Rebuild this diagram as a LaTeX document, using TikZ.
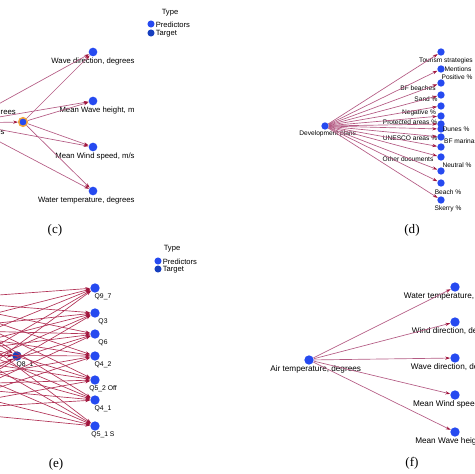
\documentclass[tikz,border=0pt]{standalone}
\usepackage{fontspec}
\setmainfont{Liberation Serif}
\newfontfamily\netfont{Liberation Sans}
\usetikzlibrary{positioning,arrows.meta}

\definecolor{predblue}{RGB}{38,74,240}
\definecolor{targblue}{RGB}{22,62,190}
\definecolor{edgecol}{RGB}{180,92,132}
\definecolor{edgered}{RGB}{178,52,88}
\definecolor{tipcol}{RGB}{160,20,60}
\definecolor{selring}{RGB}{245,165,60}

\begin{document}
\begin{tikzpicture}[x=0.75pt,y=-0.75pt]
	% Define styles
	\tikzstyle{dot} = [circle, fill=predblue, inner sep=0pt]
	\tikzstyle{cnode} = [dot, minimum size=6.5pt]
	\tikzstyle{dnode} = [dot, minimum size=5.5pt]
	\tikzstyle{enode} = [dot, minimum size=7pt]
	\tikzstyle{fnode} = [dot, minimum size=7pt]
	\tikzstyle{selnode} = [cnode, draw=selring, line width=1.1pt]
	\tikzstyle{legdot} = [dot, minimum size=5.3pt]
	\tikzstyle{clbl} = [font=\netfont\fontsize{5.8}{6}\selectfont, inner sep=0.6pt]
	\tikzstyle{dlbl} = [font=\netfont\fontsize{4.95}{5}\selectfont, inner sep=0.5pt]
	\tikzstyle{elbl} = [font=\netfont\fontsize{5.1}{5.5}\selectfont, inner sep=0.6pt, xshift=6pt]
	\tikzstyle{flbl} = [font=\netfont\fontsize{6.15}{6.5}\selectfont, inner sep=0.6pt]
	\tikzstyle{legtxt} = [font=\netfont\fontsize{5.7}{6}\selectfont, inner sep=0.4pt]
	\tikzstyle{tag} = [font=\fontsize{9.8}{11}\selectfont]
	\tikzstyle{link} = [draw=edgecol, line width=0.5pt, -{Stealth[length=3.6pt, width=2.4pt, color=tipcol]}]
	\tikzstyle{redlink} = [link, draw=edgered]
	
	% Canvas
	\useasboundingbox (0,0) rectangle (474,474);
	\clip (0,0) rectangle (474,474);
	
	% ---- (c) ----
	\node [legtxt] (ctype) at (170,13) {Type};
	\node [legdot] (cpdot) at (151,24) {};
	\node [legtxt, anchor=west] (cptxt) at (155,24.5) {Predictors};
	\node [legdot, fill=targblue] (ctdot) at (151,33) {};
	\node [legtxt, anchor=west] (cttxt) at (155,33.5) {Target};
	
	\node [cnode, label={[clbl]below:Air temperature, degrees}] (cair) at (-27,103) {};
	\node [cnode, label={[clbl]below:Wind direction, degrees}] (cwind) at (-36,123) {};
	\node [selnode] (csel) at (23,122) {};
	\node [cnode, label={[clbl]below:Wave direction, degrees}] (c1) at (93,52) {};
	\node [cnode, label={[clbl, xshift=3pt]below:Mean Wave height, m}] (c2) at (93,101) {};
	\node [cnode, label={[clbl, xshift=1.5pt]below:Mean Wind speed, m/s}] (c3) at (93,147) {};
	\node [cnode, label={[clbl, xshift=-5pt]below:Water temperature, degrees}] (c4) at (93,191) {};
	\node [tag] (ctag) at (55,230) {(c)};
	
	\draw [link] (cwind) -- (csel);
	\foreach \t in {1,...,4} {
		\draw [link] (cwind) -- (c\t);
		\draw [link] (csel) -- (c\t);
	}
	
	% ---- (d) ----
	\node [dnode, label={[dlbl, xshift=2pt]below:Development plans}] (dev) at (325,126) {};
	\foreach \n/\y in {1/52,2/69,3/83,4/95,5/106,6/116,7/124,8/129,9/137,10/147,11/157,12/171,13/183,14/200}
		\node [dnode] (t\n) at (441,\y) {};
	\foreach \n/\x/\y/\txt in {1/446/61/Tourism strategies, 2/458/69/Mentions, 3/457/77/Positive \%,
		4/418/88/BF beaches, 5/426/99/Sand \%, 6/419/113/Negative \%, 7/410/122/Protected areas \%,
		8/456/129/Dunes \%, 9/410/138/UNESCO areas \%, 10/461/141/BF marinas, 11/408/159/Other documents,
		12/457/165/Neutral \%, 13/448/192/Beach \%, 14/448/209/Skerry \%}
		\node [dlbl] (lt\n) at (\x,\y) {\txt};
	\node [tag] (dtag) at (412,230) {(d)};
	
	\foreach \n in {1,...,14}
		\draw [link] (dev) -- (t\n);
	
	% ---- (e) ----
	\node [legtxt] (etype) at (172,249) {Type};
	\node [legdot] (epdot) at (158,261) {};
	\node [legtxt, anchor=west] (eptxt) at (162,261.5) {Predictors};
	\node [legdot, fill=targblue] (etdot) at (158,269) {};
	\node [legtxt, anchor=west] (ettxt) at (162,269.5) {Target};
	
	\foreach \s/\y in {1/300,2/330,3/355,4/385,5/410}
		\node [enode] (es\s) at (-70,\y) {};
	\node [enode, fill=targblue, label={[elbl]below:Q8\_1}] (q8) at (17,356) {};
	\foreach \n/\y/\txt in {1/288/Q9\_7, 2/313/Q3, 3/334/Q6, 4/356/Q4\_2, 5/380/Q5\_2 Off, 6/400/Q4\_1, 7/426/Q5\_1 S}
		\node [enode, label={[elbl]below:\txt}] (q\n) at (95,\y) {};
	\node [tag] (etag) at (56,464) {(e)};
	
	\foreach \s in {1,...,5}
		\foreach \t in {1,...,7}
			\draw [redlink] (es\s) -- (q\t);
	\foreach \s in {1,3,5}
		\draw [redlink] (es\s) -- (q8);
	
	% ---- (f) ----
	\node [fnode, label={[flbl, xshift=5pt]below:Air temperature, degrees}] (fair) at (309,360) {};
	\node [fnode, label={[flbl]below:Water temperature, degrees}] (f1) at (455,287) {};
	\node [fnode, label={[flbl]below:Wind direction, degrees}] (f2) at (455,322) {};
	\node [fnode, label={[flbl]below:Wave direction, degrees}] (f3) at (455,358) {};
	\node [fnode, label={[flbl]below:Mean Wind speed, m/s}] (f4) at (455,395) {};
	\node [fnode, label={[flbl]below:Mean Wave height, m}] (f5) at (455,432) {};
	\node [tag] (ftag) at (412,463) {(f)};
	
	\foreach \t in {1,...,5}
		\draw [link] (fair) -- (f\t);
\end{tikzpicture}
\end{document}
